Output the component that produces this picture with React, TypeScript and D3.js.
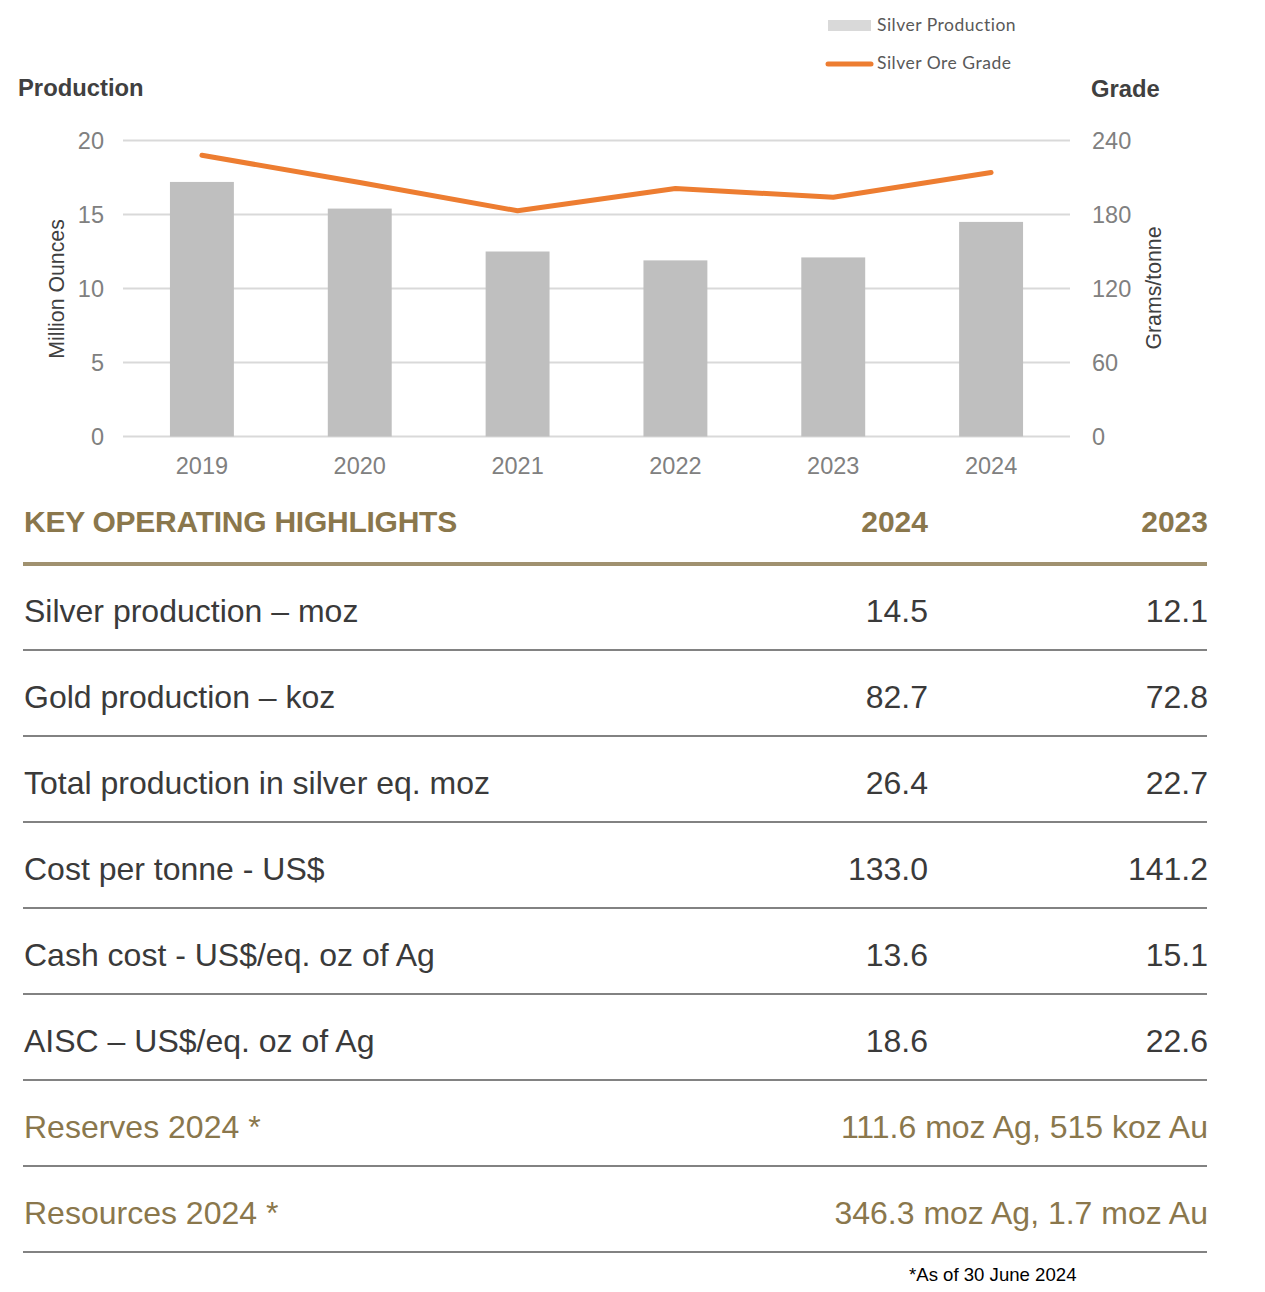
import React, { useRef, useEffect } from "react";
import * as d3 from "d3";

const years = ["2019", "2020", "2021", "2022", "2023", "2024"];
const silverProduction = [17.2, 15.4, 12.5, 11.9, 12.1, 14.5];
const oreGrade = [228, 206, 183, 201, 194, 214];
const leftTicks = [0, 5, 10, 15, 20];
const rightTicks = [0, 60, 120, 180, 240];

const tableHeader = ["KEY OPERATING HIGHLIGHTS", "2024", "2023"];
const rowLabels = [
  "Silver production – moz",
  "Gold production – koz",
  "Total production in silver eq. moz",
  "Cost per tonne - US$",
  "Cash cost - US$/eq. oz of Ag",
  "AISC – US$/eq. oz of Ag",
];
const values2024 = ["14.5", "82.7", "26.4", "133.0", "13.6", "18.6"];
const values2023 = ["12.1", "72.8", "22.7", "141.2", "15.1", "22.6"];
const reserveLabels = ["Reserves 2024 *", "Resources 2024 *"];
const reserveValues = ["111.6 moz Ag, 515 koz Au", "346.3 moz Ag, 1.7 moz Au"];
const footnote = "*As of 30 June 2024";

const CFG = {
  width: 1265,
  height: 1292,
  plot: { left: 123, right: 1070, top: 140.5, bottom: 436.5 },
  font: "'Liberation Sans', Arial, sans-serif",
  legendFont: "Lato, 'Open Sans', sans-serif",
  bar: "#bfbfbf",
  line: "#ed7d31",
  grid: "#d9d9d9",
  tick: "#808080",
  dark: "#404040",
  gold: "#8a774c",
  rule: "#a0916f",
  tableX: { left: 23, right: 1207, col1: 928, col2: 1208 },
  tableTop: 564,
  rowH: 86,
};

const App = () => {
  const ref = useRef<SVGSVGElement | null>(null);

  useEffect(() => {
    const svg = d3.select(ref.current);
    svg.selectAll("*").remove();
    const { plot, font } = CFG;

    const x = d3
      .scaleBand()
      .domain(years)
      .range([plot.left, plot.right])
      .paddingInner(0.595)
      .paddingOuter(0.2975);
    const yL = d3.scaleLinear().domain([0, 20]).range([plot.bottom, plot.top]);
    const yR = d3.scaleLinear().domain([0, 240]).range([plot.bottom, plot.top]);

    // gridlines
    svg
      .append("g")
      .selectAll("line")
      .data(leftTicks)
      .join("line")
      .attr("x1", plot.left)
      .attr("x2", plot.right)
      .attr("y1", (d) => yL(d))
      .attr("y2", (d) => yL(d))
      .attr("stroke", CFG.grid)
      .attr("stroke-width", 2);

    // bars
    svg
      .append("g")
      .selectAll("rect")
      .data(years)
      .join("rect")
      .attr("x", (d) => x(d)!)
      .attr("width", x.bandwidth())
      .attr("y", (d, i) => yL(silverProduction[i]))
      .attr("height", (d, i) => yL(0) - yL(silverProduction[i]))
      .attr("fill", CFG.bar);

    // grade line
    const line = d3
      .line<number>()
      .x((d, i) => x(years[i])! + x.bandwidth() / 2)
      .y((d) => yR(d));
    svg
      .append("path")
      .datum(oreGrade)
      .attr("d", line)
      .attr("fill", "none")
      .attr("stroke", CFG.line)
      .attr("stroke-width", 5)
      .attr("stroke-linecap", "round")
      .attr("stroke-linejoin", "round");

    // axis labels
    const tickStyle = (s: any) =>
      s.attr("font-family", font).attr("font-size", 23.5).attr("fill", CFG.tick);

    svg
      .append("g")
      .selectAll("text")
      .data(leftTicks)
      .join("text")
      .attr("x", 104)
      .attr("y", (d) => yL(d) + 8)
      .attr("text-anchor", "end")
      .text((d) => d)
      .call(tickStyle);

    svg
      .append("g")
      .selectAll("text")
      .data(rightTicks)
      .join("text")
      .attr("x", 1092)
      .attr("y", (d) => yR(d) + 8)
      .text((d) => d)
      .call(tickStyle);

    svg
      .append("g")
      .selectAll("text")
      .data(years)
      .join("text")
      .attr("x", (d) => x(d)! + x.bandwidth() / 2)
      .attr("y", 474)
      .attr("text-anchor", "middle")
      .text((d) => d)
      .call(tickStyle);

    // axis titles
    svg
      .append("text")
      .attr("transform", "translate(64,289) rotate(-90)")
      .attr("text-anchor", "middle")
      .attr("font-family", font)
      .attr("font-size", 21.3)
      .attr("fill", CFG.dark)
      .text("Million Ounces");
    svg
      .append("text")
      .attr("transform", "translate(1161,288) rotate(-90)")
      .attr("text-anchor", "middle")
      .attr("font-family", font)
      .attr("font-size", 21.3)
      .attr("fill", CFG.dark)
      .text("Grams/tonne");

    svg
      .append("text")
      .attr("x", 18)
      .attr("y", 96)
      .attr("font-family", font)
      .attr("font-weight", "bold")
      .attr("font-size", 23.8)
      .attr("fill", CFG.dark)
      .text("Production");
    svg
      .append("text")
      .attr("x", 1091)
      .attr("y", 97)
      .attr("font-family", font)
      .attr("font-weight", "bold")
      .attr("font-size", 23.8)
      .attr("fill", CFG.dark)
      .text("Grade");

    // legend
    const legend = svg
      .append("g")
      .attr("font-family", CFG.legendFont)
      .attr("font-size", 17.5)
      .attr("letter-spacing", 0.5)
      .attr("fill", "#595959");
    legend.append("rect").attr("x", 828).attr("y", 20).attr("width", 43).attr("height", 11).attr("fill", "#d9d9d9");
    legend.append("text").attr("x", 877).attr("y", 31).text("Silver Production");
    legend
      .append("line")
      .attr("x1", 828)
      .attr("x2", 871)
      .attr("y1", 64)
      .attr("y2", 64)
      .attr("stroke", CFG.line)
      .attr("stroke-width", 5)
      .attr("stroke-linecap", "round");
    legend.append("text").attr("x", 877).attr("y", 69).text("Silver Ore Grade");

    // table header
    const { tableX, tableTop, rowH } = CFG;
    const header = svg
      .append("g")
      .attr("font-family", font)
      .attr("font-weight", "bold")
      .attr("font-size", 30)
      .attr("fill", CFG.gold);
    header.append("text").attr("x", 24).attr("y", 532).attr("letter-spacing", -0.25).text(tableHeader[0]);
    header.append("text").attr("x", tableX.col1).attr("y", 532).attr("text-anchor", "end").text(tableHeader[1]);
    header.append("text").attr("x", tableX.col2).attr("y", 532).attr("text-anchor", "end").text(tableHeader[2]);
    svg
      .append("line")
      .attr("x1", tableX.left)
      .attr("x2", tableX.right)
      .attr("y1", tableTop)
      .attr("y2", tableTop)
      .attr("stroke", CFG.rule)
      .attr("stroke-width", 4);

    // rows
    const rowY = (i: number) => tableTop + rowH * i + rowH / 2 + 14.5;
    const rows = svg.append("g").attr("font-family", font).attr("font-size", 32).attr("fill", "#3a3a3a");
    rows
      .selectAll("text.label")
      .data(rowLabels)
      .join("text")
      .attr("class", "label")
      .attr("x", 24)
      .attr("y", (d, i) => rowY(i))
      .text((d) => d);
    rows
      .selectAll("text.v24")
      .data(values2024)
      .join("text")
      .attr("class", "v24")
      .attr("x", tableX.col1)
      .attr("y", (d, i) => rowY(i))
      .attr("text-anchor", "end")
      .text((d) => d);
    rows
      .selectAll("text.v23")
      .data(values2023)
      .join("text")
      .attr("class", "v23")
      .attr("x", tableX.col2)
      .attr("y", (d, i) => rowY(i))
      .attr("text-anchor", "end")
      .text((d) => d);

    const res = svg.append("g").attr("font-family", font).attr("font-size", 32).attr("fill", CFG.gold);
    res
      .selectAll("text.rl")
      .data(reserveLabels)
      .join("text")
      .attr("class", "rl")
      .attr("x", 24)
      .attr("y", (d, i) => rowY(i + rowLabels.length))
      .text((d) => d);
    res
      .selectAll("text.rv")
      .data(reserveValues)
      .join("text")
      .attr("class", "rv")
      .attr("x", tableX.col2)
      .attr("y", (d, i) => rowY(i + rowLabels.length))
      .attr("text-anchor", "end")
      .text((d) => d);

    // row separators
    const nRows = rowLabels.length + reserveLabels.length;
    svg
      .append("g")
      .selectAll("line")
      .data(d3.range(1, nRows + 1))
      .join("line")
      .attr("x1", tableX.left)
      .attr("x2", tableX.right)
      .attr("y1", (d) => tableTop + rowH * d)
      .attr("y2", (d) => tableTop + rowH * d)
      .attr("stroke", "#595959")
      .attr("stroke-width", 1.5);

    svg
      .append("text")
      .attr("x", 909)
      .attr("y", 1281)
      .attr("font-family", font)
      .attr("font-size", 18.6)
      .attr("fill", "#000")
      .text(footnote);
  }, []);

  return (
    <svg
      ref={ref}
      width={CFG.width}
      height={CFG.height}
      style={{ position: "absolute", left: 0, top: 0, background: "#fff" }}
    />
  );
};

export default App;
